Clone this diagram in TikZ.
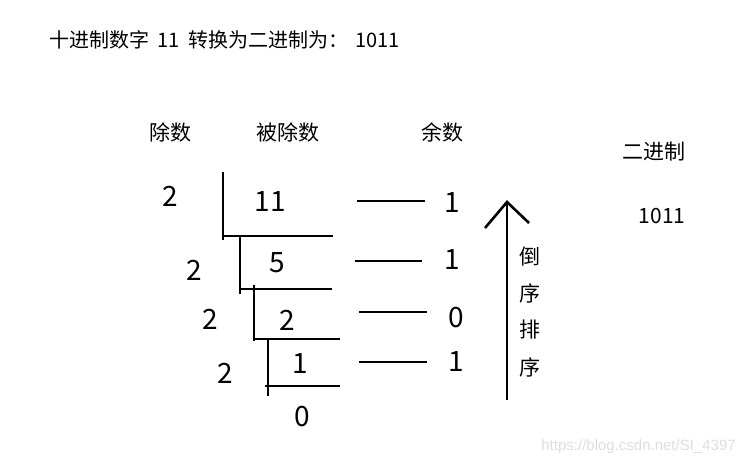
\documentclass[tikz,border=0pt]{standalone}
\usepackage{fontspec}
\setmainfont{Noto Sans CJK SC}
\newfontfamily\wmfont{Liberation Sans}
\begin{document}
\begin{tikzpicture}[x=1pt, y=-1pt, line width=2.6pt,
    txt/.style={inner sep=0pt, font=\fontsize{21}{21}\selectfont},
    num/.style={inner sep=0pt, font=\fontsize{28}{28}\selectfont}]
      \useasboundingbox (0,0) rectangle (747,466);

      \node[txt, anchor=west, font=\fontsize{20}{20}\selectfont] (title) at (48,40) {十进制数字\hspace{8pt}11\hspace{9pt}转换为二进制为：\hspace{7pt}1011};

      \node[txt] (hdiv) at (170,132) {除数};
      \node[txt] (hdvd) at (288,132) {被除数};
      \node[txt] (hrem) at (442,132) {余数};
      \node[txt] (hbin) at (654,152) {二进制};
      \node[txt] (binval) at (662,216) {1011};

      % divisors
      \node[num] (d1) at (170,196) {2};
      \node[num] (d2) at (194,270) {2};
      \node[num] (d3) at (210,319) {2};
      \node[num] (d4) at (225,373) {2};

      % dividends
      \node[num] (q1) at (270,202) {11};
      \node[num] (q2) at (277,263) {5};
      \node[num] (q3) at (287,320) {2};
      \node[num] (q4) at (300,364) {1};
      \node[num] (q5) at (302,417) {0};

      % remainders
      \node[num] (r1) at (452,203) {1};
      \node[num] (r2) at (452,260) {1};
      \node[num] (r3) at (456,318) {0};
      \node[num] (r4) at (456,362) {1};

      \draw (223,172) -- (223,240);
      \draw (223,236) -- (333,236);
      \draw (240,236) -- (240,294);
      \draw (240,289) -- (332,289);
      \draw (254,285) -- (254,341);
      \draw (254,339) -- (340,339);
      \draw (268,340) -- (268,396);
      \draw (265,386) -- (340,386);

      \draw (357,201) -- (425,201);
      \draw (355,261) -- (422,261);
      \draw (359,312) -- (427,312);
      \draw (359,362) -- (427,362);

      % reverse order arrow
      \coordinate (top) at (507,202);
      \draw (507,400) -- (top);
      \draw (485,228) -- (top) -- (529,223);
      \node[txt] (c1) at (530,257) {倒};
      \node[txt] (c2) at (530,293) {序};
      \node[txt] (c3) at (530,330) {排};
      \node[txt] (c4) at (530,367) {序};

      \node[inner sep=0pt, anchor=east, text=black!13, font=\wmfont\fontsize{15}{15}\selectfont] (wm) at (737,447) {https://blog.csdn.net/SI\_4397};
    \end{tikzpicture}
\end{document}
